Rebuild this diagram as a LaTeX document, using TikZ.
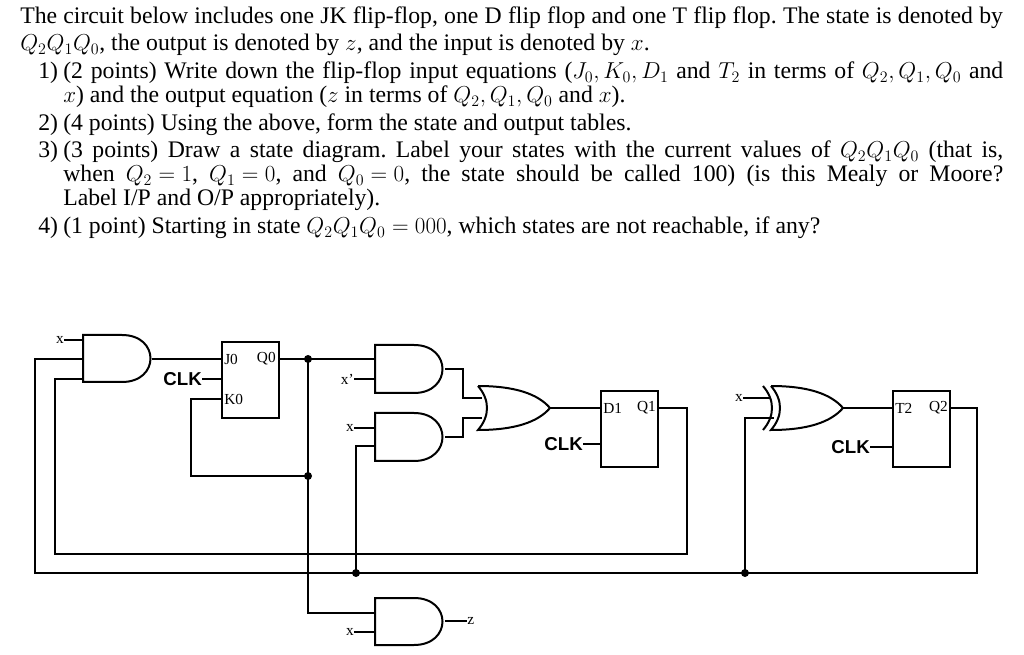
\documentclass[tikz,border=0pt]{standalone}
\usepackage{fontspec}
\setmainfont{Liberation Serif}
\newfontfamily\clkfont{Liberation Sans}
\frenchspacing
\begin{document}
\begin{tikzpicture}[x=0.75pt,y=-0.75pt,
  w/.style={line width=1.5pt},
  txt/.style={anchor=west,inner sep=0,font=\fontsize{17.8}{20}\selectfont},
  lbl/.style={inner sep=0,font=\fontsize{11.5}{13}\selectfont},
  clk/.style={inner sep=0,anchor=east,font=\clkfont\bfseries\fontsize{14}{15}\selectfont},
  ff/.style={draw,line width=1.5pt,minimum width=57*0.75pt,minimum height=76*0.75pt,inner sep=0,anchor=north west},
  dot/.style={circle,fill,inner sep=0,minimum size=6pt}]
\useasboundingbox (0,0) rectangle (1024,655);
% text
\node[txt] (t1) at (20,18) {\makebox[737pt][s]{The circuit below includes one JK flip-flop, one D flip flop and one T flip flop. The state is denoted by}};
\node[txt] (t2) at (20,45) {$Q_2Q_1Q_0$, the output is denoted by $z$, and the input is denoted by $x$.};
\node[txt] (n1) at (38,73) {1)};
\node[txt] (t3) at (63,73) {\makebox[705pt][s]{(2 points) Write down the flip-flop input equations ($J_0,K_0,D_1$ and $T_2$ in terms of $Q_2,Q_1,Q_0$ and}};
\node[txt] (t4) at (63,97) {$x$) and the output equation ($z$ in terms of $Q_2,Q_1,Q_0$ and $x$).};
\node[txt] (n2) at (38,125) {2)};
\node[txt] (t5) at (63,125) {(4 points) Using the above, form the state and output tables.};
\node[txt] (n3) at (38,152) {3)};
\node[txt] (t6) at (63,152) {\makebox[705pt][s]{(3 points) Draw a state diagram. Label your states with the current values of $Q_2Q_1Q_0$ (that is,}};
\node[txt] (t7) at (63,176) {\makebox[705pt][s]{when \mbox{$Q_2=1$}, \mbox{$Q_1=0$}, and \mbox{$Q_0=0$}, the state should be called 100) (is this Mealy or Moore?}};
\node[txt] (t8) at (63,200) {Label I/P and O/P appropriately).};
\node[txt] (n4) at (38,228) {4)};
\node[txt] (t9) at (63,228) {(1 point) Starting in state $Q_2Q_1Q_0=000$, which states are not reachable, if any?};
% gates
\draw[w] (83,335) -- (122,335) .. controls (160,335) and (160,382) .. (122,382) -- (83,382) -- cycle;
\draw[w] (375,345) -- (414,345) .. controls (452,345) and (452,393) .. (414,393) -- (375,393) -- cycle;
\draw[w] (375,413) -- (414,413) .. controls (452,413) and (452,461) .. (414,461) -- (375,461) -- cycle;
\draw[w] (375,598) -- (414,598) .. controls (452,598) and (452,645) .. (414,645) -- (375,645) -- cycle;
\draw[w] (478,386) .. controls (490,400) and (490,416) .. (478,430) .. controls (515,430) and (538,422) .. (550,408) .. controls (538,394) and (515,386) .. (478,386);
\draw[w] (771,386) .. controls (783,400) and (783,416) .. (771,430) .. controls (808,430) and (831,422) .. (843,408) .. controls (831,394) and (808,386) .. (771,386);
\draw[w] (763,386) .. controls (775,400) and (775,416) .. (763,430);
% flip-flops
\node[ff] (jk) at (221,341) {};
\node[ff] (d) at (600,390) {};
\node[ff] (t) at (892,390) {};
\node[lbl,anchor=west] at (224,359) {J0};
\node[lbl,anchor=east] at (276,359) {Q0};
\node[lbl,anchor=west] at (224,399) {K0};
\node[lbl,anchor=west] at (603,408) {D1};
\node[lbl,anchor=east] at (656,408) {Q1};
\node[lbl,anchor=west] at (895,408) {T2};
\node[lbl,anchor=east] at (948,408) {Q2};
\node[clk] (c1) at (202,379) {CLK};
\node[clk] (c2) at (583,444) {CLK};
\node[clk] (c3) at (870,447) {CLK};
\draw[w] (c1.east) -- (221,379);
\draw[w] (c2.east) -- (600,444);
\draw[w] (c3.east) -- (892,447);
% labels
\node[lbl,anchor=east] (lx1) at (64,340) {x};
\node[lbl,anchor=east] (lx2) at (354,379) {x'};
\node[lbl,anchor=east] (lx3) at (354,428) {x};
\node[lbl,anchor=east] (lx4) at (354,632) {x};
\node[lbl,anchor=east] (lx5) at (743,398) {x};
\node[lbl,anchor=west] (lz) at (467,621) {z};
\draw[w] (lx1.east) -- (83,340);
\draw[w] (lx2.east) -- (375,379);
\draw[w] (lx3.east) -- (375,428);
\draw[w] (lx4.east) -- (375,632);
\draw[w] (lx5.east) -- (771,398);
\draw[w] (445,621) -- (lz.west);
% wires
\draw[w] (152,359) -- (221,359);
\draw[w] (278,359) -- (375,359);
\draw[w] (308,359) -- (308,613) -- (375,613);
\draw[w] (221,399) -- (191,399) -- (191,476) -- (308,476);
\draw[w] (445,369) -- (463,369) -- (463,398) -- (482,398);
\draw[w] (445,437) -- (463,437) -- (463,418) -- (482,418);
\draw[w] (550,408) -- (600,408);
\draw[w] (658,408) -- (687,408) -- (687,554) -- (55,554) -- (55,379) -- (83,379);
\draw[w] (843,408) -- (892,408);
\draw[w] (950,408) -- (977,408) -- (977,573) -- (35,573) -- (35,359) -- (83,359);
\draw[w] (356,573) -- (356,446) -- (375,446);
\draw[w] (745,573) -- (745,418) -- (774,418);
\node[dot] at (308,359) {};
\node[dot] at (308,476) {};
\node[dot] at (356,573) {};
\node[dot] at (745,573) {};
\end{tikzpicture}
\end{document}
